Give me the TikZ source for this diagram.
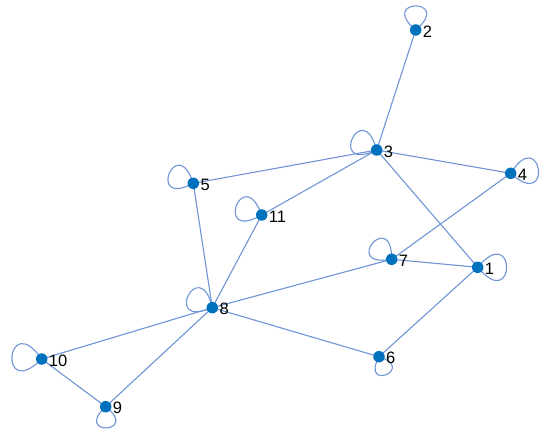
\documentclass[tikz,border=0pt]{standalone}
\usepackage{fontspec}
\setmainfont{Liberation Sans}
\definecolor{edgec}{RGB}{112,148,214}
\definecolor{nodec}{RGB}{0,114,189}
\newcommand{\lblfont}{\fontsize{16.5}{17}\selectfont}
\begin{document}
\begin{tikzpicture}[x=1pt,y=-1pt,
  vtx/.style={circle,fill=nodec,draw=none,minimum size=11.5pt,inner sep=0pt},
  lbl/.style={font=\lblfont,inner sep=0pt,anchor=west},
  edge/.style={draw=edgec,line width=1.1pt},
]
\useasboundingbox (0,0) rectangle (550,436);
\coordinate (p1) at (477.7,267.3);
\coordinate (p2) at (415.7,30);
\coordinate (p3) at (376.7,150);
\coordinate (p4) at (510.7,173.3);
\coordinate (p5) at (193.3,183.3);
\coordinate (p6) at (379,356.7);
\coordinate (p7) at (391.7,259.3);
\coordinate (p8) at (212.3,307.7);
\coordinate (p9) at (105.7,406.7);
\coordinate (p10) at (41.7,359);
\coordinate (p11) at (261.7,215);
% edges
\foreach \a/\b in {2/3,3/5,3/4,3/11,3/1,4/7,7/1,7/8,1/6,8/6,8/5,8/11,8/10,8/9,10/9}
  \draw[edge] (p\a) -- (p\b);
% self loops: node/direction/length
\foreach \n/\t/\L in {2/-90/50,3/-155/56,4/-8/58,5/-158/54,11/-160/56,7/-140/52,1/0/60,8/-153/56,10/-175/62,9/88/44,6/68/40}
  \draw[edge] (p\n) .. controls +(\t+50:\L) and +(\t-50:\L) .. (p\n);
% nodes and labels
\foreach \n in {1,...,11}{
  \node[vtx] (n\n) at (p\n) {};
  \node[lbl] (l\n) at ([xshift=7pt,yshift=-1.5pt]p\n) {\n};
}
\end{tikzpicture}
\end{document}
